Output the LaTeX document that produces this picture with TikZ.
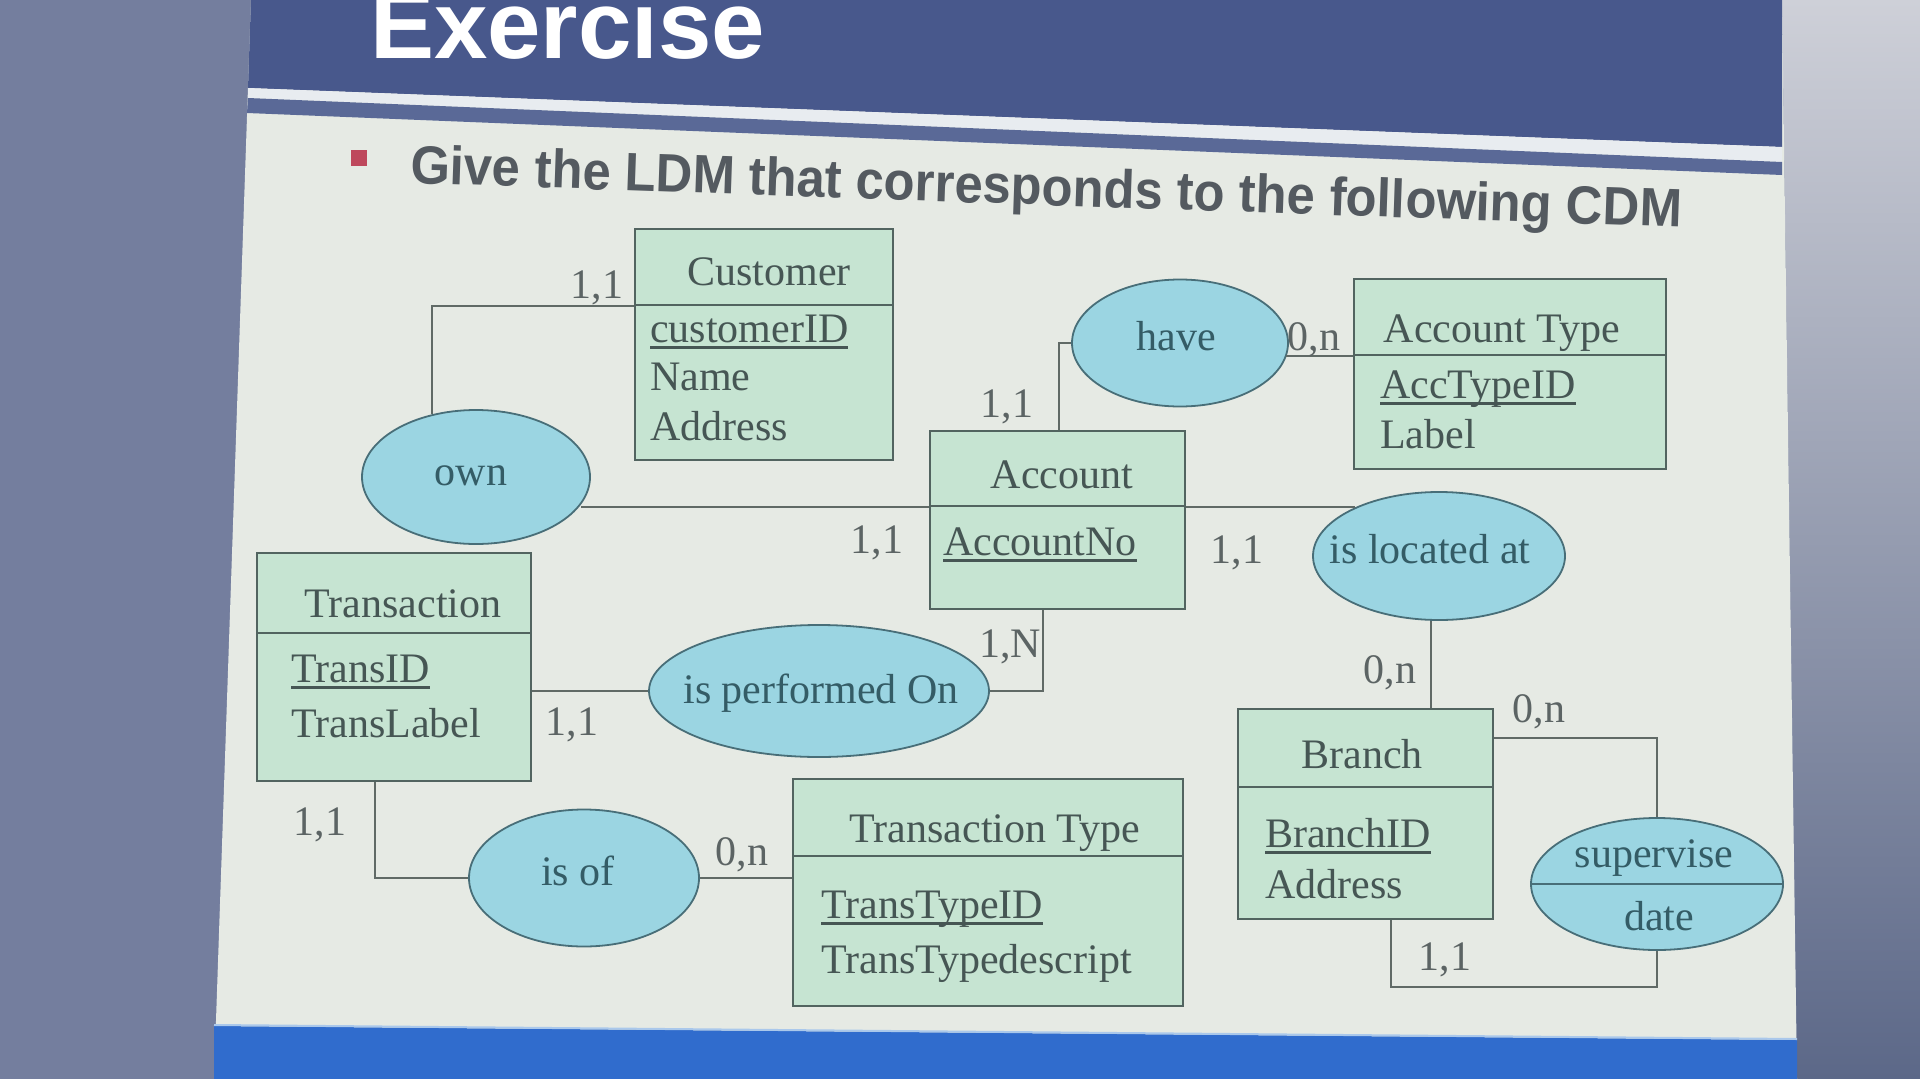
\documentclass[tikz,border=0pt]{standalone}
\usepackage{fontspec}
\setmainfont{Liberation Serif}
\newfontfamily\titlesans{Liberation Sans}
\newfontfamily\tasksans[FakeStretch=0.94]{Liberation Sans}
\usetikzlibrary{calc,shapes.geometric}
\definecolor{pagegrey}{RGB}{116,126,158}
\definecolor{rightlight}{RGB}{206,208,216}
\definecolor{rightdark}{RGB}{92,104,136}
\definecolor{slidebg}{RGB}{230,234,228}
\definecolor{hdrblue}{RGB}{72,88,140}
\definecolor{stripewhite}{RGB}{232,236,240}
\definecolor{barblue}{RGB}{48,108,205}
\definecolor{barline}{RGB}{170,200,235}
\definecolor{bulletred}{RGB}{190,72,92}
\definecolor{tasktext}{RGB}{84,90,96}
\definecolor{entfill}{RGB}{198,228,210}
\definecolor{entedge}{RGB}{82,100,96}
\definecolor{enttext}{RGB}{70,86,84}
\definecolor{relfill}{RGB}{155,213,226}
\definecolor{reledge}{RGB}{72,110,120}
\definecolor{reltext}{RGB}{52,92,102}
\definecolor{connline}{RGB}{96,106,102}
\definecolor{cardtext}{RGB}{92,100,100}
\newcommand\keyattr[1]{\setbox0\hbox{#1}\rlap{\vrule height -3.5pt depth 6.5pt width \wd0}\box0}
\tikzset{
  ent/.style={draw=entedge, fill=entfill, line width=2.2pt, anchor=north west, inner sep=0pt},
  etitle/.style={anchor=base, text=enttext, font=\fontsize{42}{48}\selectfont, inner sep=0pt},
  eattr/.style={anchor=base west, text=enttext, font=\fontsize{42}{48}\selectfont, inner sep=0pt},
  rel/.style={ellipse, draw=reledge, fill=relfill, line width=1.8pt, inner sep=0pt},
  reltxt/.style={anchor=base, text=reltext, font=\fontsize{42}{48}\selectfont, inner sep=0pt},
  conn/.style={draw=connline, line width=2pt},
  card/.style={anchor=base, text=cardtext, font=\fontsize{42}{48}\selectfont, inner sep=0pt},
}
\begin{document}
\begin{tikzpicture}[x=1pt,y=-1pt]
\useasboundingbox (0,0) rectangle (1920,1079);
% surroundings
\fill[pagegrey] (0,0) rectangle (1920,1079);
\shade[top color=rightlight, bottom color=rightdark] (1782,0) -- (1920,0) -- (1920,1079) -- (1797,1079) -- cycle;
% slide
\fill[slidebg] (251,0) -- (1782,0) -- (1797,1079) -- (214,1079) -- cycle;
\fill[hdrblue] (251,0) -- (1782,0) -- (1782,147) -- (248,88) -- cycle;
\fill[stripewhite] (248,88) -- (1782,147) -- (1782,162) -- (248,98) -- cycle;
\fill[hdrblue!90!white] (248,98) -- (1782,162) -- (1782,175) -- (247,113) -- cycle;
\fill[barblue] (214,1026) -- (1797,1040) -- (1797,1079) -- (214,1079) -- cycle;
\draw[barline, line width=2pt] (214,1025) -- (1797,1039);
% title and task
\node[anchor=base west, inner sep=0pt, text=white, font=\titlesans\bfseries\fontsize{96}{100}\selectfont] (title) at (370,58) {Exercise};
\fill[bulletred] (351,150) rectangle (367,166);
\node[anchor=base west, inner sep=0pt, rotate=-2, text=tasktext, font=\tasksans\bfseries\fontsize{54}{60}\selectfont] (task) at (410,183) {Give the LDM that corresponds to the following CDM};

% ---------------- entities
% Customer
\node[ent, minimum width=258, minimum height=76] (custh) at (634,228) {};
\node[ent, minimum width=258, minimum height=155] (custb) at (634,304) {};
\node[etitle] (custt) at (769,285) {Customer};
\node[eattr] (custa1) at (650,342) {\keyattr{customerID}};
\node[eattr] (custa2) at (650,390) {Name};
\node[eattr] (custa3) at (650,440) {Address};
% Account
\node[ent, minimum width=255, minimum height=75] (acch) at (929,430) {};
\node[ent, minimum width=255, minimum height=103] (accb) at (929,505) {};
\node[etitle] (acct) at (1062,488) {Account};
\node[eattr] (acca1) at (943,555) {\keyattr{AccountNo}};
% Account Type
\node[ent, minimum width=312, minimum height=76] (ath) at (1353,278) {};
\node[ent, minimum width=312, minimum height=114] (atb) at (1353,354) {};
\node[etitle] (att) at (1502,342) {Account Type};
\node[eattr] (ata1) at (1380,398) {\keyattr{AccTypeID}};
\node[eattr] (ata2) at (1380,448) {Label};
% Branch
\node[ent, minimum width=255, minimum height=78] (brh) at (1237,708) {};
\node[ent, minimum width=255, minimum height=132] (brb) at (1237,786) {};
\node[etitle] (brt) at (1362,768) {Branch};
\node[eattr] (bra1) at (1265,847) {\keyattr{BranchID}};
\node[eattr] (bra2) at (1265,898) {Address};
% Transaction
\node[ent, minimum width=274, minimum height=80] (trh) at (256,552) {};
\node[ent, minimum width=274, minimum height=148] (trb) at (256,632) {};
\node[etitle] (trt) at (403,617) {Transaction};
\node[eattr] (tra1) at (291,682) {\keyattr{TransID}};
\node[eattr] (tra2) at (291,737) {TransLabel};
% Transaction Type
\node[ent, minimum width=390, minimum height=77] (tth) at (792,778) {};
\node[ent, minimum width=390, minimum height=150] (ttb) at (792,855) {};
\node[etitle] (ttt) at (995,842) {Transaction Type};
\node[eattr] (tta1) at (821,918) {\keyattr{TransTypeID}};
\node[eattr] (tta2) at (821,973) {TransTypedescript};

% ---------------- relations
\node[rel, minimum width=228, minimum height=134] (own) at (476,477) {};
\node[reltxt] (ownt) at (471,485) {own};
\node[rel, minimum width=216, minimum height=127] (have) at (1180,343) {};
\node[reltxt] (havet) at (1176,350) {have};
\node[rel, minimum width=252, minimum height=128] (loc) at (1439,556) {};
\node[reltxt] (loct) at (1430,563) {is located at};
\node[rel, minimum width=340, minimum height=132] (perf) at (819,691) {};
\node[reltxt] (perft) at (821,703) {is performed On};
\node[rel, minimum width=230, minimum height=137] (isof) at (584,878) {};
\node[reltxt] (isoft) at (578,885) {is of};
\node[rel, minimum width=252, minimum height=132] (sup) at (1657,884) {};
\draw[draw=reledge, line width=1.8pt] (sup.west) -- (sup.east);
\node[reltxt] (supa) at (1654,867) {supervise};
\node[reltxt] (supb) at (1659,930) {date};

% ---------------- connectors
\draw[conn] (custh.south west) -| (own.125);
\draw[conn] (acch.south west) -- (acch.south west -| own.-15);
\draw[conn] ($(acch.north west)+(130,0)$) |- (have.west);
\draw[conn] (ath.south west) -- (ath.south west -| have.-8);
\draw[conn] (acch.south east) -- (acch.south east -| loc.150);
\draw[conn] ($(loc.south)+(-8,0)$) -- ($(loc.south |- brh.north)+(-8,0)$);
\draw[conn] ($(brh.north east)+(0,30)$) -| (sup.north);
\draw[conn] ($(brb.south west)+(154,0)$) -- ++(0,67) -| (sup.south);
\draw[conn] (trb.east |- perf.west) -- (perf.west);
\draw[conn] (perf.east) -| ($(accb.south west)+(114,0)$);
\draw[conn] ($(trb.south west)+(119,0)$) |- (isof.west);
\draw[conn] (isof.east) -- (isof.east -| ttb.west);

% ---------------- cardinalities
\node[card] (c1) at (597,298) {1,1};
\node[card] (c2) at (877,553) {1,1};
\node[card] (c3) at (1007,417) {1,1};
\node[card] (c4) at (1314,350) {0,n};
\node[card] (c5) at (1237,563) {1,1};
\node[card] (c6) at (1390,683) {0,n};
\node[card] (c7) at (1539,722) {0,n};
\node[card] (c8) at (1445,970) {1,1};
\node[card] (c9) at (572,735) {1,1};
\node[card] (c10) at (1010,657) {1,N};
\node[card] (c11) at (320,835) {1,1};
\node[card] (c12) at (742,865) {0,n};
\end{tikzpicture}
\end{document}
